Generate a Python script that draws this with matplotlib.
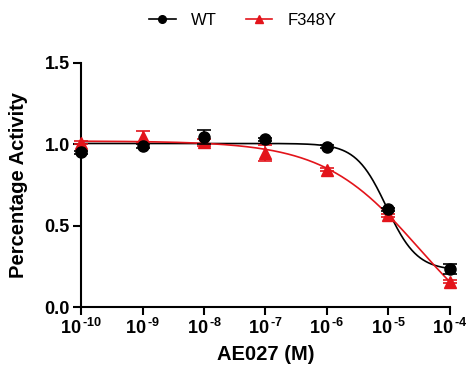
import numpy as np
import matplotlib
matplotlib.use("Agg")
import matplotlib.pyplot as plt
from matplotlib.lines import Line2D

plt.rcParams['font.family'] = ['Liberation Sans', 'DejaVu Sans']
plt.rcParams['mathtext.fontset'] = 'custom'
plt.rcParams['mathtext.rm'] = 'Liberation Sans:bold'
plt.rcParams['mathtext.bf'] = 'Liberation Sans:bold'
plt.rcParams['mathtext.it'] = 'Liberation Sans:bold'

log_conc = [-10, -9, -8, -7, -6, -5, -4]
wt_vals = [0.95, 0.99, 1.045, 1.03, 0.985, 0.60, 0.232]
wt_err = [0.01, 0.01, 0.045, 0.01, 0.01, 0.01, 0.03]
f348y_vals = [1.01, 1.045, 1.012, 0.945, 0.843, 0.563, 0.155]
f348y_err = [0.01, 0.035, 0.02, 0.05, 0.01, 0.01, 0.01]
xtick_labels = ['10$^{\\,\\text{-10}}$', '10$^{\\,\\text{-9}}$', '10$^{\\,\\text{-8}}$',
                '10$^{\\,\\text{-7}}$', '10$^{\\,\\text{-6}}$', '10$^{\\,\\text{-5}}$',
                '10$^{\\,\\text{-4}}$']

# four-parameter logistic fit parameters (top, bottom, logIC50, hill)
wt_fit = (1.005, 0.225, -5.03, 1.75)
f348y_fit = (1.02, -0.30, -4.50, 0.558)

def logistic(x, p):
    top, bottom, c, h = p
    return bottom + (top - bottom) / (1 + 10 ** (h * (x - c)))

fig = plt.figure(figsize=(4.74, 3.81), dpi=100)
ax = fig.add_axes([0.171, 0.194, 0.778, 0.641])

conc = 10.0 ** np.array(log_conc)
xs = np.linspace(-10, -4, 400)

black = '#000000'
red = '#e3141b'

ax.plot(10 ** xs, logistic(xs, wt_fit), color=black, lw=1.2, clip_on=False, zorder=3)
ax.plot(10 ** xs, logistic(xs, f348y_fit), color=red, lw=1.2, clip_on=False, zorder=3)

ax.errorbar(conc, f348y_vals, yerr=f348y_err, fmt='^', color=red, ms=8,
            capsize=5, elinewidth=1.2, capthick=1.2, clip_on=False, zorder=4)
ax.errorbar(conc, wt_vals, yerr=wt_err, fmt='o', color=black, ms=8,
            capsize=5, elinewidth=1.2, capthick=1.2, clip_on=False, zorder=5)

ax.set_xscale('log')
ax.set_xlim(1e-10, 1e-4)
ax.set_ylim(0, 1.5)
ax.set_xticks(conc)
ax.set_xticklabels(xtick_labels, fontsize=13, fontweight='bold')
ax.minorticks_off()
ax.set_yticks([0.0, 0.5, 1.0, 1.5])
ax.set_yticklabels(['0.0', '0.5', '1.0', '1.5'], fontsize=13, fontweight='bold')

for s in ['top', 'right']:
    ax.spines[s].set_visible(False)
for s in ['left', 'bottom']:
    ax.spines[s].set_linewidth(1.5)
ax.tick_params(width=1.5, length=6, direction='out', pad=2)

ax.set_xlabel('AE027 (M)', fontsize=14.5, fontweight='bold', labelpad=5)
ax.set_ylabel('Percentage Activity', fontsize=14.5, fontweight='bold', labelpad=12)

handles = [Line2D([], [], color=black, marker='o', ms=5.5, lw=1.2),
           Line2D([], [], color=red, marker='^', ms=5.5, lw=1.2)]
fig.legend(handles, ['WT', 'F348Y'], loc='upper center', bbox_to_anchor=(0.512, 1.005),
           ncol=2, frameon=False, fontsize=12, handlelength=1.6, handletextpad=0.9,
           columnspacing=1.75)

fig.savefig('out.png', dpi=100)
